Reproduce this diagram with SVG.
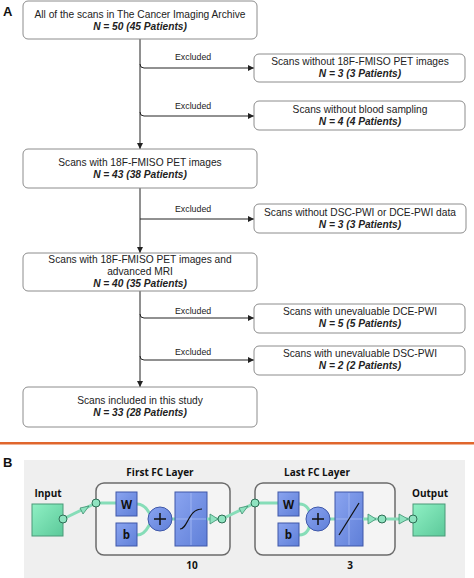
<svg xmlns="http://www.w3.org/2000/svg" width="474" height="578" viewBox="0 0 474 578">
<defs>
<marker id="ah" viewBox="0 0 10 10" refX="10" refY="5" markerWidth="6" markerHeight="6" orient="auto" markerUnits="userSpaceOnUse"><path d="M0,0 L10,5 L0,10 z" fill="#222"/></marker>
<linearGradient id="gg" x1="0" y1="0" x2="1" y2="1"><stop offset="0" stop-color="#8ff0c4"/><stop offset="1" stop-color="#5cc99a"/></linearGradient>
<linearGradient id="bg" x1="0" y1="0" x2="1" y2="1"><stop offset="0" stop-color="#8aa4f0"/><stop offset="1" stop-color="#5f7fd8"/></linearGradient>
</defs>
<style>
.box{fill:#fff;stroke:#8c8c8c;stroke-width:1}
.t{font-family:"Liberation Sans",Arial,sans-serif;font-size:10.2px;fill:#222;text-anchor:middle}
.n{font-family:"Liberation Sans",Arial,sans-serif;font-size:10.2px;font-weight:bold;font-style:italic;fill:#222;text-anchor:middle}
.ex{font-family:"Liberation Sans",Arial,sans-serif;font-size:8.8px;fill:#222}
.ln{fill:none;stroke:#222;stroke-width:1}
.lab{font-family:"Liberation Sans",Arial,sans-serif;font-size:13px;font-weight:bold;fill:#111}
.bt{font-family:"Open Sans","Noto Sans",sans-serif;font-size:10px;font-weight:bold;fill:#111;text-anchor:middle}
.sq{fill:url(#gg);stroke:#4a9a78;stroke-width:1}
.blk{fill:url(#bg);stroke:#3e57a8;stroke-width:1}
.lay{fill:#f4f4f4;stroke:#6b6b6b;stroke-width:1.5}
.gl{fill:none;stroke:#86ddb8;stroke-width:3}
.dot{fill:#8fe3c0;stroke:#2e6e55;stroke-width:1}
.ar{fill:#8fe3c0;stroke:#3d8f70;stroke-width:0.8}
.wb{font-family:"Open Sans","Noto Sans",sans-serif;font-size:11.5px;font-weight:bold;fill:#111;text-anchor:middle}
</style>
<text class="lab" x="3" y="16">A</text>
<g id="connectors">
<path class="ln" d="M140,39 L140,149" marker-end="url(#ah)"/>
<path class="ln" d="M140,64 Q140,68 144,68 L254,68" marker-end="url(#ah)"/>
<path class="ln" d="M140,112 Q140,116 144,116 L254,116" marker-end="url(#ah)"/>
<path class="ln" d="M140,188 L140,253" marker-end="url(#ah)"/>
<path class="ln" d="M140,219 L254,219" marker-end="url(#ah)"/>
<path class="ln" d="M140,291 L140,387" marker-end="url(#ah)"/>
<path class="ln" d="M140,314 Q140,318 144,318 L254,318" marker-end="url(#ah)"/>
<path class="ln" d="M140,356 Q140,360 144,360 L254,360" marker-end="url(#ah)"/>
<text class="ex" x="175" y="60">Excluded</text>
<text class="ex" x="175" y="109">Excluded</text>
<text class="ex" x="175" y="212">Excluded</text>
<text class="ex" x="175" y="314">Excluded</text>
<text class="ex" x="175" y="355">Excluded</text>
</g>
<g id="n1"><rect class="box" x="23" y="1" width="234" height="38" rx="5"/><text class="t" x="140" y="18">All of the scans in The Cancer Imaging Archive</text><text class="n" x="140" y="30">N = 50 (45 Patients)</text></g>
<g id="e1"><rect class="box" x="254" y="54" width="211" height="28" rx="5"/><text class="t" x="360" y="65">Scans without 18F-FMISO PET images</text><text class="n" x="360" y="77">N = 3 (3 Patients)</text></g>
<g id="e2"><rect class="box" x="254" y="101" width="211" height="29" rx="5"/><text class="t" x="360" y="113">Scans without blood sampling</text><text class="n" x="360" y="125">N = 4 (4 Patients)</text></g>
<g id="n2"><rect class="box" x="23" y="149" width="234" height="39" rx="5"/><text class="t" x="140" y="166">Scans with 18F-FMISO PET images</text><text class="n" x="140" y="178">N = 43 (38 Patients)</text></g>
<g id="e3"><rect class="box" x="254" y="204" width="212" height="29" rx="5"/><text class="t" x="360" y="216">Scans without DSC-PWI or DCE-PWI data</text><text class="n" x="360" y="228">N = 3 (3 Patients)</text></g>
<g id="n3"><rect class="box" x="23" y="253" width="234" height="38" rx="5"/><text class="t" x="140" y="263">Scans with 18F-FMISO PET images and</text><text class="t" x="140" y="275">advanced MRI</text><text class="n" x="140" y="287">N = 40 (35 Patients)</text></g>
<g id="e4"><rect class="box" x="254" y="304" width="211" height="29" rx="5"/><text class="t" x="360" y="315">Scans with unevaluable DCE-PWI</text><text class="n" x="360" y="327">N = 5 (5 Patients)</text></g>
<g id="e5"><rect class="box" x="254" y="346" width="211" height="29" rx="5"/><text class="t" x="360" y="357">Scans with unevaluable DSC-PWI</text><text class="n" x="360" y="369">N = 2 (2 Patients)</text></g>
<g id="n4"><rect class="box" x="23" y="387" width="234" height="40" rx="5"/><text class="t" x="140" y="404">Scans included in this study</text><text class="n" x="140" y="416">N = 33 (28 Patients)</text></g>
<rect x="0" y="442" width="474" height="2.5" fill="#e0662c"/>
<text class="lab" x="3" y="467">B</text>
<rect x="24" y="460" width="441" height="118" fill="#efefef"/>
<g id="input"><text class="bt" x="48" y="497">Input</text><rect class="sq" x="32" y="504" width="31" height="32"/></g>
<g id="output"><text class="bt" x="430" y="497">Output</text><rect class="sq" x="413" y="504" width="32" height="32"/></g>
<g id="layer1">
<rect class="lay" x="96" y="483" width="134" height="72" rx="8"/>
<text class="bt" x="160" y="476">First FC Layer</text>
<text class="bt" x="192" y="569">10</text>
<path class="gl" d="M96,503 L116,503"/>
<path class="gl" d="M137,504 C146,504 148,512 150,514"/>
<path class="gl" d="M137,535 C146,535 148,526 150,524"/>
<path class="gl" d="M172,519 L175,519"/>
<rect class="blk" x="116" y="492" width="21" height="24"/>
<text class="wb" x="126.5" y="508.5">W</text>
<rect class="blk" x="116" y="523" width="21" height="23"/>
<text class="wb" x="126.5" y="539">b</text>
<circle class="blk" cx="160" cy="519" r="12"/>
<path d="M154,519 L166,519 M160,513 L160,525" stroke="#111" stroke-width="1.5"/>
<rect class="blk" x="175" y="492" width="32" height="54"/>
<path d="M176,519 L206,519 M191,493 L191,545" stroke="#a8bdf5" stroke-width="0.8"/>
<path d="M180,529 C188,529 188,509 202,509" fill="none" stroke="#111" stroke-width="1.2"/>
<path class="gl" d="M207,519 L222,519"/>
<path class="ar" d="M210,514 L218,519 L210,524 z"/>
</g>
<g id="layer2">
<rect class="lay" x="255" y="483" width="140" height="72" rx="8"/>
<text class="bt" x="317" y="476">Last FC Layer</text>
<text class="bt" x="350" y="569">3</text>
<path class="gl" d="M255,503 L278,503"/>
<path class="gl" d="M299,504 C308,504 310,512 309,513"/>
<path class="gl" d="M299,535 C308,535 310,526 309,525"/>
<path class="gl" d="M330,519 L335,519"/>
<rect class="blk" x="278" y="492" width="21" height="24"/>
<text class="wb" x="288.5" y="508.5">W</text>
<rect class="blk" x="278" y="523" width="21" height="23"/>
<text class="wb" x="288.5" y="539">b</text>
<circle class="blk" cx="318" cy="519" r="12"/>
<path d="M312,519 L324,519 M318,513 L318,525" stroke="#111" stroke-width="1.5"/>
<rect class="blk" x="335" y="492" width="28" height="54"/>
<path d="M336,519 L362,519 M349,493 L349,545" stroke="#a8bdf5" stroke-width="0.8"/>
<path d="M339,535 L359,503" fill="none" stroke="#111" stroke-width="1.2"/>
<path class="gl" d="M363,519 L382,519"/>
<path class="ar" d="M368,514 L376,519 L368,524 z"/>
</g>
<g id="links">
<path class="gl" d="M63,519 L96,503"/>
<path class="ar" d="M80,508 L89,506 L83,514 z"/>
<path class="gl" d="M222,519 L255,503"/>
<path class="ar" d="M239,508 L248,506 L242,514 z"/>
<path class="gl" d="M382,519 L413,519"/>
<path class="ar" d="M399,514 L408,519 L399,524 z"/>
<circle class="dot" cx="63" cy="519" r="4"/>
<circle class="dot" cx="96" cy="503" r="4"/>
<circle class="dot" cx="222" cy="519" r="4"/>
<circle class="dot" cx="255" cy="503" r="4"/>
<circle class="dot" cx="382" cy="519" r="4"/>
<circle class="dot" cx="413" cy="519" r="4"/>
</g>
</svg>
